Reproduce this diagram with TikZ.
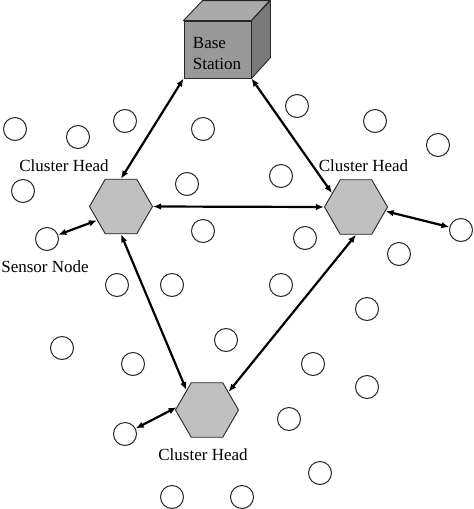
\documentclass[tikz,border=0pt]{standalone}
\usepackage{fontspec}
\setmainfont{Liberation Serif}
\usetikzlibrary{shapes.geometric,arrows.meta}
\definecolor{hexgray}{RGB}{192,192,192}
\definecolor{frontgray}{RGB}{153,153,153}
\definecolor{topgray}{RGB}{170,170,170}
\definecolor{sidegray}{RGB}{122,122,122}
\begin{document}
\begin{tikzpicture}[x=1pt,y=-1pt,
  sensor/.style={circle,draw=black!85,line width=1pt,minimum size=23pt,inner sep=0pt},
  headhex/.style={regular polygon,regular polygon sides=6,draw=black!85,line width=0.9pt,fill=hexgray,minimum size=63pt,inner sep=0pt},
  lbl/.style={font=\fontsize{17}{21}\selectfont,inner sep=0pt},
  link/.style={line width=2.2pt,{Latex[length=8pt,width=6.5pt]}-{Latex[length=8pt,width=6.5pt]}},
  cubeedge/.style={draw=black!85,line width=0.9pt,line join=round}]
\useasboundingbox (0,0) rectangle (474,509);
% base station cube
\node[cubeedge,fill=frontgray,rectangle,minimum width=67pt,minimum height=57pt,inner sep=0pt] (bs) at (217.5,49.5) {};
\filldraw[cubeedge,fill=topgray] (bs.north west) -- ++(19,-20) -- ++(67,0) -- (bs.north east) -- cycle;
\filldraw[cubeedge,fill=sidegray] (bs.north east) -- ++(19,-20) -- ++(0,57) -- (bs.south east) -- cycle;
\node[lbl,align=left] (bsT) at (217,53.5) {Base\\Station};
% cluster heads
\node[headhex] (hL) at (121,206.5) {};
\node[headhex] (hR) at (356,207) {};
\node[headhex] (hB) at (207,410) {};
% sensor nodes
\foreach \n/\x/\y in {1/15/129,2/78/137,3/125/121,4/203/129,5/297/106,6/375/121,7/438/145,
  8/23/191,9/187/184,10/281/176,11/47/239,12/203/231,13/305/238,14/461/230,15/399/254,
  16/117/285,17/172/285,18/281/285,19/367/309,20/62/348,21/133/364,22/226/340,23/313/364,
  24/367/387,25/289/419,26/125/434,27/320/473,28/172/497,29/242/497}
  \node[sensor] (s\n) at (\x,\y) {};
% labels
\node[lbl] (tL) at (64,166) {Cluster Head};
\node[lbl] (tR) at (363.5,166) {Cluster Head};
\node[lbl] (tB) at (203,455) {Cluster Head};
\node[lbl] (tS) at (45,267) {Sensor Node};
% links
\draw[link] (bs.south west) -- (hL.north);
\draw[link] (bs.south east) -- (hR.150);
\draw[link] (hL.east) -- (hR.west);
\draw[link] (hL.south) -- (hB.136);
\draw[link] (hR.south) -- (hB.40);
\draw[link] (hL.210) -- (s11);
\draw[link] (hR.-8) -- (s14);
\draw[link] (hB.175) -- (s26);
\end{tikzpicture}
\end{document}
